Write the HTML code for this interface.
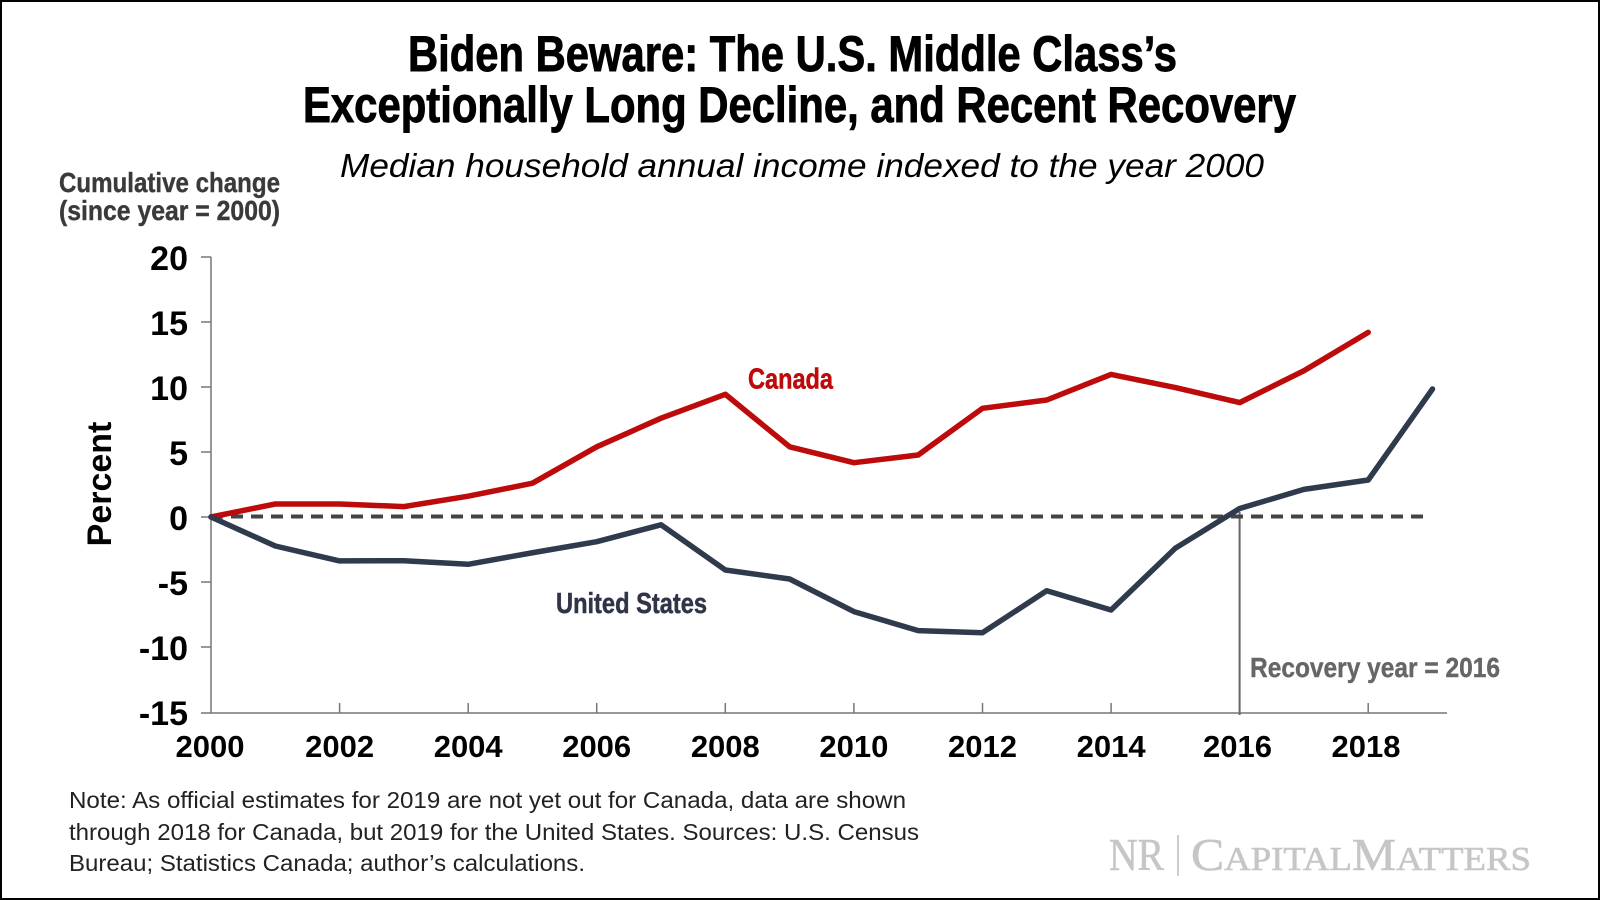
<!DOCTYPE html>
<html>
<head>
<meta charset="utf-8">
<style>
  html, body { margin: 0; padding: 0; background: #ffffff; }
  svg { display: block; }
  .cond { font-family: "Liberation Sans Narrow", "Liberation Sans", sans-serif; font-weight: bold; }
  .bold { font-family: "Liberation Sans", sans-serif; font-weight: bold; }
</style>
</head>
<body>
<svg width="1600" height="900" viewBox="0 0 1600 900" xmlns="http://www.w3.org/2000/svg">
  <rect x="0" y="0" width="1600" height="900" fill="#ffffff"/>
  <rect x="1" y="1" width="1598" height="898" fill="none" stroke="#000" stroke-width="2"/>

  <!-- Title -->
  <text class="cond" x="408" y="71" font-size="50" fill="#000" stroke="#000" stroke-width="0.9" textLength="769" lengthAdjust="spacingAndGlyphs">Biden Beware: The U.S. Middle Class’s</text>
  <text class="cond" x="303" y="122" font-size="50" fill="#000" stroke="#000" stroke-width="0.9" textLength="993" lengthAdjust="spacingAndGlyphs">Exceptionally Long Decline, and Recent Recovery</text>

  <!-- Subtitle -->
  <text x="340" y="177" font-family="'Liberation Sans', sans-serif" font-style="italic" font-size="33" fill="#000" textLength="924" lengthAdjust="spacingAndGlyphs">Median household annual income indexed to the year 2000</text>

  <!-- Cumulative change label -->
  <text class="cond" x="59" y="192" font-size="28" fill="#3a3a3a" stroke="#3a3a3a" stroke-width="0.4" textLength="221" lengthAdjust="spacingAndGlyphs">Cumulative change</text>
  <text class="cond" x="59" y="220" font-size="28" fill="#3a3a3a" stroke="#3a3a3a" stroke-width="0.4" textLength="221" lengthAdjust="spacingAndGlyphs">(since year = 2000)</text>

  <!-- Percent label -->
  <text class="bold" transform="translate(111,484) rotate(-90)" x="0" y="0" text-anchor="middle" font-size="34" fill="#000">Percent</text>

  <!-- Y axis -->
  <line x1="211" y1="257" x2="211" y2="713" stroke="#777" stroke-width="1.5"/>
  <g stroke="#777" stroke-width="1.5">
    <line x1="201" y1="257" x2="211" y2="257"/>
    <line x1="201" y1="322" x2="211" y2="322"/>
    <line x1="201" y1="387" x2="211" y2="387"/>
    <line x1="201" y1="452" x2="211" y2="452"/>
    <line x1="201" y1="517" x2="211" y2="517"/>
    <line x1="201" y1="582" x2="211" y2="582"/>
    <line x1="201" y1="647" x2="211" y2="647"/>
  </g>
  <g class="bold" font-size="34" fill="#000" text-anchor="end">
    <text x="188" y="270">20</text>
    <text x="188" y="335">15</text>
    <text x="188" y="400">10</text>
    <text x="188" y="465">5</text>
    <text x="188" y="530">0</text>
    <text x="188" y="595">-5</text>
    <text x="188" y="660">-10</text>
    <text x="188" y="725">-15</text>
  </g>

  <!-- X axis -->
  <line x1="201" y1="713" x2="1447" y2="713" stroke="#777" stroke-width="1.5"/>
  <g stroke="#777" stroke-width="1.5">
    <line x1="339.6" y1="703" x2="339.6" y2="713"/>
    <line x1="468.2" y1="703" x2="468.2" y2="713"/>
    <line x1="596.7" y1="703" x2="596.7" y2="713"/>
    <line x1="725.3" y1="703" x2="725.3" y2="713"/>
    <line x1="853.9" y1="703" x2="853.9" y2="713"/>
    <line x1="982.5" y1="703" x2="982.5" y2="713"/>
    <line x1="1111.1" y1="703" x2="1111.1" y2="713"/>
    <line x1="1368.2" y1="703" x2="1368.2" y2="713"/>
  </g>
  <g class="bold" font-size="31" fill="#000" text-anchor="middle">
    <text x="210" y="757">2000</text>
    <text x="339.6" y="757">2002</text>
    <text x="468.2" y="757">2004</text>
    <text x="596.7" y="757">2006</text>
    <text x="725.3" y="757">2008</text>
    <text x="853.9" y="757">2010</text>
    <text x="982.5" y="757">2012</text>
    <text x="1111.1" y="757">2014</text>
    <text x="1237.5" y="757">2016</text>
    <text x="1366" y="757">2018</text>
  </g>

  <!-- Recovery vertical line -->
  <line x1="1239.6" y1="512" x2="1239.6" y2="715" stroke="#666" stroke-width="2"/>
  <text class="cond" x="1250" y="677" font-size="28" fill="#666" stroke="#666" stroke-width="0.4" textLength="250" lengthAdjust="spacingAndGlyphs">Recovery year = 2016</text>

  <!-- Dashed zero line -->
  <line x1="211" y1="516.5" x2="1426" y2="516.5" stroke="#444" stroke-width="4" stroke-dasharray="12 8"/>

  <!-- Canada -->
  <polyline fill="none" stroke="#bd0a0a" stroke-width="5.5" stroke-linejoin="round" stroke-linecap="round"
    points="211,517 275.29,504 339.58,504 403.87,506.6 468.16,496.2 532.45,483.2 596.74,446.8 661.03,418.2 725.32,394.3 789.61,446.8 853.9,462.7 918.19,455 982.48,408.3 1046.77,400 1111.06,374.4 1175.35,387.6 1239.64,402.6 1303.93,370.75 1368.22,332.4"/>

  <!-- United States -->
  <polyline fill="none" stroke="#2f3a4d" stroke-width="5.5" stroke-linejoin="round" stroke-linecap="round"
    points="211,517 275.29,546 339.58,560.9 403.87,560.7 468.16,564.3 532.45,552.75 596.74,541.7 661.03,524.8 725.32,570 789.61,579 853.9,611.6 918.19,630.6 982.48,632.7 1046.77,590.7 1111.06,610 1175.35,548.2 1239.64,508.5 1303.93,489.4 1368.22,480 1432.51,389"/>

  <!-- Series labels -->
  <text class="cond" x="748" y="388.5" font-size="29" fill="#bd0a0a" stroke="#bd0a0a" stroke-width="0.5" textLength="85" lengthAdjust="spacingAndGlyphs">Canada</text>
  <text class="cond" x="556" y="613" font-size="29" fill="#2f3447" stroke="#2f3447" stroke-width="0.5" textLength="151" lengthAdjust="spacingAndGlyphs">United States</text>

  <!-- Note -->
  <g font-family="'Liberation Sans', sans-serif" font-size="23" fill="#222">
    <text x="69" y="808" textLength="837" lengthAdjust="spacingAndGlyphs">Note: As official estimates for 2019 are not yet out for Canada, data are shown</text>
    <text x="69" y="840" textLength="850" lengthAdjust="spacingAndGlyphs">through 2018 for Canada, but 2019 for the United States. Sources: U.S. Census</text>
    <text x="69" y="871" textLength="516" lengthAdjust="spacingAndGlyphs">Bureau; Statistics Canada; author’s calculations.</text>
  </g>

  <!-- Logo -->
  <g font-family="'Liberation Serif', serif" fill="#c6c6c6" stroke="#c6c6c6" stroke-width="0.6">
    <text x="1109" y="870" font-size="46" textLength="55" lengthAdjust="spacingAndGlyphs">NR</text>
    <text x="1191" y="870" textLength="340" lengthAdjust="spacingAndGlyphs"><tspan font-size="46">C</tspan><tspan font-size="34">APITAL</tspan><tspan font-size="46">M</tspan><tspan font-size="34">ATTERS</tspan></text>
  </g>
  <line x1="1178" y1="835" x2="1178" y2="876" stroke="#cccccc" stroke-width="2"/>
</svg>
</body>
</html>
